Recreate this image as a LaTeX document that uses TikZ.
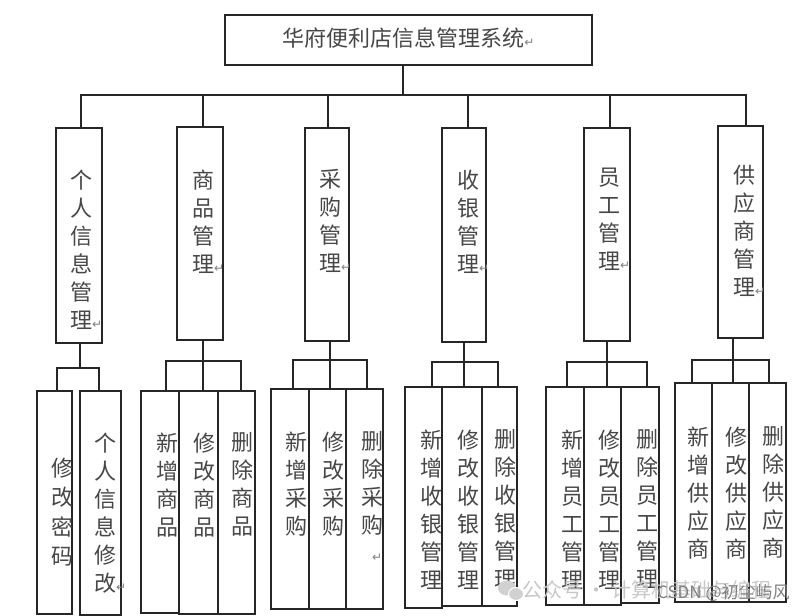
\documentclass[tikz,border=0pt]{standalone}
\usepackage{fontspec}
\newfontfamily\cjk{Noto Sans CJK SC}
\newfontfamily\dejavu{DejaVu Sans}
\usetikzlibrary{fit}
\newcommand\parmk{\rlap{\textcolor{black!50}{\dejavu\fontsize{12bp}{12bp}\selectfont ↵}}}
\newcommand\parmkw{\textcolor{black!50}{\dejavu\fontsize{12bp}{12bp}\selectfont ↵}}
\begin{document}
\begin{tikzpicture}[x=1bp,y=-1bp,
  line/.style={draw=black!85, line width=1.3bp},
  box/.style={line, inner sep=0pt, rectangle},
  vtext/.style={anchor=north, align=center, inner sep=0pt, text=black!72,
    font=\cjk\fontsize{22bp}{28bp}\selectfont}]
\useasboundingbox[fill=white] (0,0) rectangle (811,616);

% title
\node[box, fit={(225,15) (592,65)}] (top) {};
\node[inner sep=0pt, text=black!72, font=\cjk\fontsize{22bp}{22bp}\selectfont] (title) at (408.5,38) {华府便利店信息管理系统\parmkw};

% level 1 boxes
\node[box, fit={(56,128) (102,343)}] (n1) {};
\node[box, fit={(177,127) (223,340)}] (n2) {};
\node[box, fit={(305,128) (349,341)}] (n3) {};
\node[box, fit={(442,128) (486,342)}] (n4) {};
\node[box, fit={(584,128) (630,341)}] (n5) {};
\node[box, fit={(718,126) (763,338)}] (n6) {};

\node[vtext] (t1) at (81,169.5) {个\\人\\信\\息\\管\\理\parmk};
\node[vtext] (t2) at (203,169.5) {商\\品\\管\\理\parmk};
\node[vtext] (t3) at (330,169.5) {采\\购\\管\\理\parmk};
\node[vtext] (t4) at (468,169.5) {收\\银\\管\\理\parmk};
\node[vtext] (t5) at (609,167.5) {员\\工\\管\\理\parmk};
\node[vtext] (t6) at (744,164.5) {供\\应\\商\\管\\理\parmk};

% top bus
\coordinate (b0) at (403,95);
\coordinate (bL) at (81,95);
\coordinate (bR) at (746,95);
\coordinate (b2) at (203,95);
\coordinate (b3) at (328,95);
\coordinate (b4) at (468,95);
\coordinate (b5) at (610,95);
\draw[line] (top.south -| b0) -- (b0);
\draw[line] (n1.north -| bL) -- (bL) -- (bR) -- (n6.north -| bR);
\draw[line] (n2.north -| b2) -- (b2);
\draw[line] (n3.north -| b3) -- (b3);
\draw[line] (n4.north -| b4) -- (b4);
\draw[line] (n5.north -| b5) -- (b5);

% leaf boxes
\node[box, fit={(37,391) (72,614)}] (l11) {};
\node[box, fit={(80,391) (121,615)}] (l12) {};
\node[box, fit={(141,391) (179,613)}] (l21) {};
\node[box, fit={(179,391) (218,614)}] (l22) {};
\node[box, fit={(218,391) (255,614)}] (l23) {};
\node[box, fit={(271,389) (309,609)}] (l31) {};
\node[box, fit={(309,389) (346,609)}] (l32) {};
\node[box, fit={(346,389) (383,609)}] (l33) {};
\node[box, fit={(405,387) (442,608)}] (l41) {};
\node[box, fit={(442,387) (482,606)}] (l42) {};
\node[box, fit={(482,387) (517,606)}] (l43) {};
\node[box, fit={(546,387) (584,605)}] (l51) {};
\node[box, fit={(584,387) (621,605)}] (l52) {};
\node[box, fit={(621,387) (659,603)}] (l53) {};
\node[box, fit={(675,383) (712,602)}] (l61) {};
\node[box, fit={(712,383) (749,602)}] (l62) {};
\node[box, fit={(749,383) (786,602)}] (l63) {};

% leaf texts
\node[vtext, font=\cjk\fontsize{22bp}{29.5bp}\selectfont] (s11) at (62,457.5) {修\\改\\密\\码};
\node[vtext] (s12) at (105,432.5) {个\\人\\信\\息\\修\\改\parmk};
\node[vtext] (s21) at (167,432.5) {新\\增\\商\\品};
\node[vtext] (s22) at (204,432.5) {修\\改\\商\\品};
\node[vtext] (s23) at (242,432.5) {删\\除\\商\\品};
\node[vtext] (s31) at (296,431.5) {新\\增\\采\\购};
\node[vtext] (s32) at (333,431.5) {修\\改\\采\\购};
\node[vtext] (s33) at (372,431.5) {删\\除\\采\\购\\\parmk};
\node[vtext] (s41) at (431,429.5) {新\\增\\收\\银\\管\\理};
\node[vtext] (s42) at (468,429.5) {修\\改\\收\\银\\管\\理};
\node[vtext] (s43) at (505,429.5) {删\\除\\收\\银\\管\\理};
\node[vtext] (s51) at (572,429.5) {新\\增\\员\\工\\管\\理};
\node[vtext] (s52) at (609,429.5) {修\\改\\员\\工\\管\\理};
\node[vtext] (s53) at (647,429.5) {删\\除\\员\\工\\管\\理};
\node[vtext] (s61) at (698,426.5) {新\\增\\供\\应\\商};
\node[vtext] (s62) at (736,426.5) {修\\改\\供\\应\\商};
\node[vtext] (s63) at (773,426.5) {删\\除\\供\\应\\商};

% group buses
\coordinate (j1p) at (80,368);  \coordinate (j1a) at (57,368);  \coordinate (j1b) at (99,368);
\draw[line] (n1.south -| j1p) -- (j1p);
\draw[line] (l11.north -| j1a) -- (j1a) -- (j1b) -- (l12.north -| j1b);

\coordinate (j2p) at (203,361); \coordinate (j2a) at (166,361); \coordinate (j2b) at (241,361);
\draw[line] (n2.south -| j2p) -- (l22.north -| j2p);
\draw[line] (l21.north -| j2a) -- (j2a) -- (j2b) -- (l23.north -| j2b);

\coordinate (j3p) at (330,360); \coordinate (j3a) at (293,360); \coordinate (j3b) at (367,360);
\draw[line] (n3.south -| j3p) -- (l32.north -| j3p);
\draw[line] (l31.north -| j3a) -- (j3a) -- (j3b) -- (l33.north -| j3b);

\coordinate (j4p) at (464,362); \coordinate (j4a) at (432,362); \coordinate (j4b) at (498,362);
\draw[line] (n4.south -| j4p) -- (l42.north -| j4p);
\draw[line] (l41.north -| j4a) -- (j4a) -- (j4b) -- (l43.north -| j4b);

\coordinate (j5p) at (607,362); \coordinate (j5a) at (567,362); \coordinate (j5b) at (647,362);
\draw[line] (n5.south -| j5p) -- (l52.north -| j5p);
\draw[line] (l51.north -| j5a) -- (j5a) -- (j5b) -- (l53.north -| j5b);

\coordinate (j6p) at (733,360); \coordinate (j6a) at (692,360); \coordinate (j6b) at (769,360);
\draw[line] (n6.south -| j6p) -- (l62.north -| j6p);
\draw[line] (l61.north -| j6a) -- (j6a) -- (j6b) -- (l63.north -| j6b);

% watermark
\fill[black!18] (507,588) ellipse [x radius=9bp, y radius=7.5bp];
\fill[black!18, draw=white, line width=1bp] (516,594) ellipse [x radius=7.5bp, y radius=6.5bp];
\node[anchor=west, inner sep=0pt, text=black!22, font=\cjk\fontsize{20bp}{20bp}\selectfont] (wm) at (522,590) {公众号 · 计算机基础与编程};
\node[anchor=west, inner sep=0pt, text=black!50, font=\cjk\fontsize{17bp}{17bp}\selectfont] (csdn) at (657,593) {CSDN @初尘屿风};
\end{tikzpicture}
\end{document}
